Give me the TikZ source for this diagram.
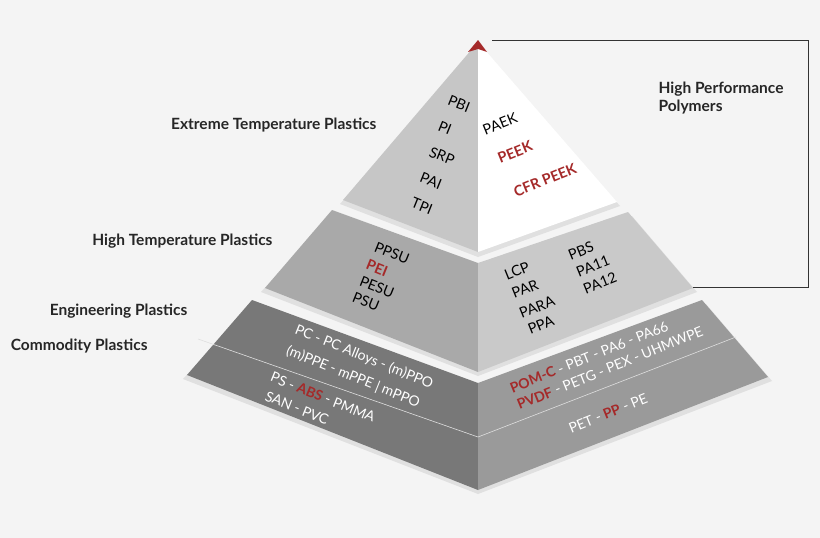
\documentclass[tikz,border=0pt]{standalone}
\usepackage{fontspec}
\setmainfont{Lato}
\definecolor{bg}{HTML}{F4F4F4}
\definecolor{rd}{HTML}{A52A2A}
\definecolor{tl}{HTML}{C6C6C6}
\definecolor{ml}{HTML}{A9A9A9}
\definecolor{mr}{HTML}{C9C9C9}
\definecolor{bl}{HTML}{787878}
\definecolor{br}{HTML}{9A9A9A}
\begin{document}
\begin{tikzpicture}[x=1pt,y=-1pt,
  lab/.style={font=\fontsize{15.5}{18}\selectfont\bfseries,text=black!85},
  lt/.style={font=\fontsize{14.5}{16}\selectfont,text=black,rotate=-22,inner sep=0},
  rt/.style={font=\fontsize{14.5}{16}\selectfont,text=black,rotate=22,inner sep=0},
  wl/.style={font=\fontsize{14}{16}\selectfont,text=white,rotate=-22,inner sep=0},
  wr/.style={font=\fontsize{14}{16}\selectfont,text=white,rotate=22,inner sep=0},
  hl/.style={text=rd,font=\fontsize{14.5}{16}\selectfont\bfseries},
  face/.style={draw=none}]
\fill[bg] (0,0) rectangle (820,538);
\useasboundingbox (0,0) rectangle (820,538);
% shadows
\fill[black!12] (478,46) -- (620,206) -- (478,257) -- (340,204) -- cycle;
\fill[black!12] (332,214) -- (478,267) -- (632,216) -- (697,292) -- (478,376) -- (261,292) -- cycle;
\fill[black!12] (252,304) -- (478,387) -- (706,304) -- (772,381) -- (478,494) -- (183,379) -- cycle;
% bottom tier
\fill[bl] (252,300) -- (478,383) -- (478,490) -- (187,375) -- cycle;
\fill[br] (478,383) -- (702,300) -- (768,377) -- (478,490) -- cycle;
\draw[white!75!gray,line width=0.6pt] (198,339) -- (478,437) -- (736,337);
% middle tier
\fill[ml] (332,210) -- (478,263) -- (478,372) -- (265,288) -- cycle;
\fill[mr] (478,263) -- (628,212) -- (693,288) -- (478,372) -- cycle;
% top tier
\fill[tl] (478,42) -- (478,252) -- (343,200) -- cycle;
\fill[white] (478,42) -- (617,202) -- (478,252) -- cycle;
\fill[rd] (478,40) -- (487,52) -- (478,49) -- (468,52) -- cycle;
% bracket
\coordinate (b1) at (492,40);
\coordinate (b2) at (693,287);
\draw[black!80,line width=0.8pt] (b1) -- (808,40) -- (808,287) -- (b2);
% labels
\node[lab,align=left,anchor=north west] (hp) at (655,78) {High Performance\\Polymers};
\node[lab,anchor=east] (et) at (380,125) {Extreme Temperature Plastics};
\node[lab,anchor=east] (ht) at (276,241) {High Temperature Plastics};
\node[lab,anchor=east] (ep) at (191,311) {Engineering Plastics};
\node[lab,anchor=east] (cp) at (151,346) {Commodity Plastics};
% top left
\node[lt] (t1) at (459,104) {PBI};
\node[lt] (t2) at (445,128) {PI};
\node[lt] (t3) at (442,156) {SRP};
\node[lt] (t4) at (431,181) {PAI};
\node[lt] (t5) at (422,206) {TPI};
% top right
\node[rt] (t6) at (500,124) {PAEK};
\node[rt,hl] (t7) at (515,152) {PEEK};
\node[rt,hl] (t8) at (545,180) {CFR PEEK};
% middle left
\node[lt] (m1) at (392,253) {PPSU};
\node[lt,hl] (m2) at (377,268) {PEI};
\node[lt] (m3) at (377,287) {PESU};
\node[lt] (m4) at (366,302) {PSU};
% middle right
\node[rt] (m5) at (517,271) {LCP};
\node[rt] (m6) at (525,289) {PAR};
\node[rt] (m7) at (537,307) {PARA};
\node[rt] (m8) at (541,325) {PPA};
\node[rt] (m9) at (581,251) {PBS};
\node[rt] (m10) at (593,266) {PA11};
\node[rt] (m11) at (600,283) {PA12};
% bottom left
\node[wl] (b3) at (364,357) {PC - PC Alloys - (m)PPO};
\node[wl] (b4) at (353,377) {(m)PPE - mPPE | mPPO};
\node[wl] (b5) at (323,397) {PS - \textcolor{rd}{\bfseries ABS} - PMMA};
\node[wl] (b6) at (297,408) {SAN - PVC};
% bottom right
\node[wr] (b7) at (589,357) {\textcolor{rd}{\bfseries POM-C} - PBT - PA6 - PA66};
\node[wr] (b8) at (610,368) {\textcolor{rd}{\bfseries PVDF} - PETG - PEX - UHMWPE};
\node[wr] (b9) at (608,413) {PET - \textcolor{rd}{\bfseries PP} - PE};
\end{tikzpicture}
\end{document}
